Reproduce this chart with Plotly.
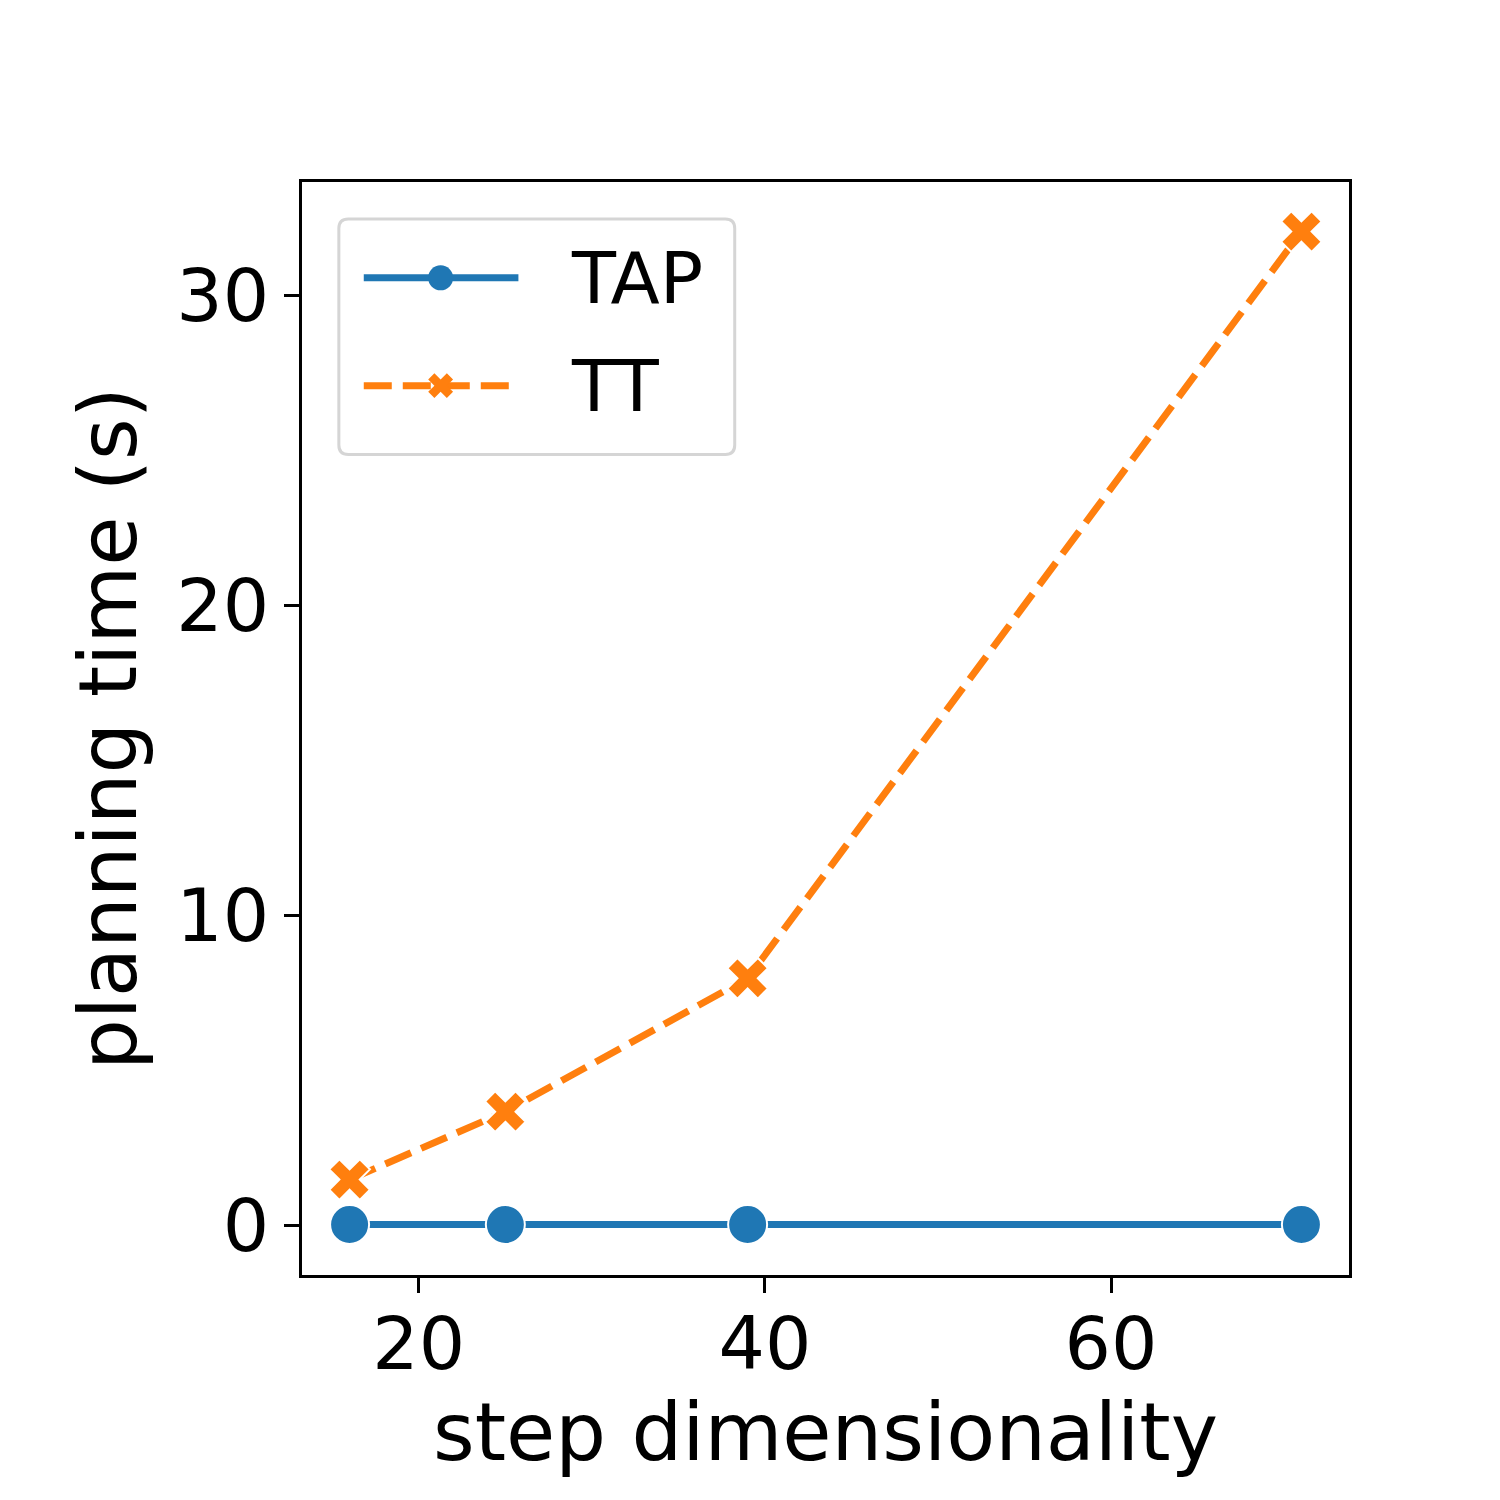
import plotly.graph_objects as go

step_dim = [16, 25, 39, 71]
tap_time = [0.03, 0.03, 0.03, 0.03]
tt_time = [1.48, 3.67, 7.97, 32.06]
series_names = ["TAP", "TT"]
x_ticks = [20, 40, 60]
y_ticks = [0, 10, 20, 30]

blue = "#1f77b4"
orange = "#ff7f0e"
font = "DejaVu Sans"

fig = go.Figure()

fig.add_trace(go.Scatter(
    x=step_dim, y=tap_time, mode="lines+markers", name=series_names[0],
    line=dict(color=blue, width=7),
    marker=dict(symbol="circle", size=39, color=blue, line=dict(color="white", width=2)),
    showlegend=False, cliponaxis=False,
))
fig.add_trace(go.Scatter(
    x=step_dim, y=tt_time, mode="lines+markers", name=series_names[1],
    line=dict(color=orange, width=7, dash="28px,11px"),
    marker=dict(symbol="x", size=36, color=orange, line=dict(color="white", width=2)),
    showlegend=False, cliponaxis=False,
))

# hand-drawn legend (rounded box, long line samples) on a hidden overlay axis
lx = [0.059, 0.2067]
mx = 0.1324
ly = [0.9123, 0.8137]
fig.add_trace(go.Scatter(x=lx, y=[ly[0]] * 2, mode="lines", xaxis="x2", yaxis="y2",
                         line=dict(color=blue, width=7), showlegend=False, hoverinfo="skip"))
fig.add_trace(go.Scatter(x=[mx], y=[ly[0]], mode="markers", xaxis="x2", yaxis="y2",
                         marker=dict(symbol="circle", size=25, color=blue), showlegend=False, hoverinfo="skip"))
fig.add_trace(go.Scatter(x=lx, y=[ly[1]] * 2, mode="lines", xaxis="x2", yaxis="y2",
                         line=dict(color=orange, width=7, dash="28px,11px"), showlegend=False, hoverinfo="skip"))
fig.add_trace(go.Scatter(x=[mx], y=[ly[1]], mode="markers", xaxis="x2", yaxis="y2",
                         marker=dict(symbol="x", size=22, color=orange), showlegend=False, hoverinfo="skip"))

x0, x1, y0, y1, r = 0.0352, 0.4133, 0.7507, 0.9662, 0.009
ry = r * 1050 / 1095
path = (f"M {x0+r},{y0} L {x1-r},{y0} Q {x1},{y0} {x1},{y0+ry} L {x1},{y1-ry} "
        f"Q {x1},{y1} {x1-r},{y1} L {x0+r},{y1} Q {x0},{y1} {x0},{y1-ry} "
        f"L {x0},{y0+ry} Q {x0},{y0} {x0+r},{y0} Z")
fig.add_shape(type="path", path=path, xref="paper", yref="paper",
              line=dict(color="#d5d5d5", width=3), fillcolor="rgba(255,255,255,0.8)", layer="below")

for name, yy in zip(series_names, ly):
    fig.add_annotation(x=0.255, y=yy, xref="paper", yref="paper", text=name, showarrow=False,
                       xanchor="left", yanchor="middle", font=dict(family=font, size=72, color="black"))

axis_common = dict(
    showgrid=False, zeroline=False, showline=True, linecolor="black", linewidth=3.3,
    mirror=True, ticks="outside", ticklen=15, tickwidth=3.3, tickcolor="black",
    tickfont=dict(family=font, size=73, color="black"),
)
fig.update_layout(
    width=1500, height=1500,
    paper_bgcolor="white", plot_bgcolor="white",
    margin=dict(l=294, r=159, t=174, b=233),
    xaxis=dict(range=[13.25, 73.75], tickvals=x_ticks, ticklabelstandoff=-12,
               title=dict(text="step dimensionality", font=dict(family=font, size=80, color="black"), standoff=14),
               **axis_common),
    yaxis=dict(range=[-1.6, 33.66], tickvals=y_ticks,
               title=dict(text="planning time (s)", font=dict(family=font, size=80, color="black"), standoff=14),
               **axis_common),
    xaxis2=dict(overlaying="x", range=[0, 1], visible=False, fixedrange=True),
    yaxis2=dict(overlaying="y", range=[0, 1], visible=False, fixedrange=True),
)

fig.write_html("out.html")
